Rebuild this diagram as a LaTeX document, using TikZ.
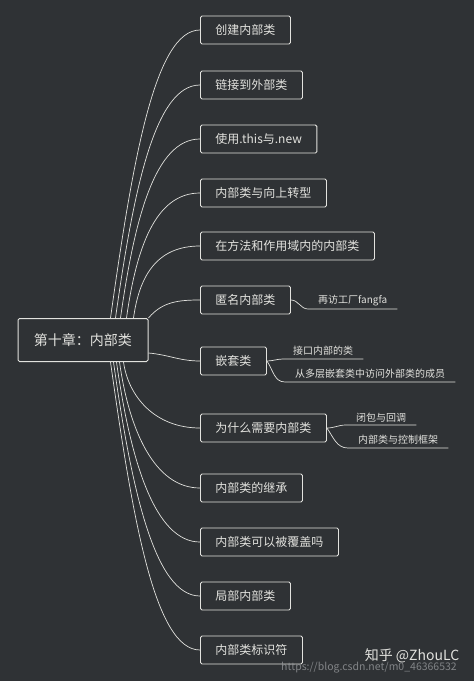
\documentclass[tikz,border=0pt]{standalone}
\usepackage{fontspec}
\newfontfamily\cjk{Noto Sans CJK SC}
\definecolor{board}{RGB}{47,50,53}
\definecolor{chalk}{RGB}{226,226,222}
\definecolor{faint}{RGB}{150,152,155}
\tikzset{
  mainbox/.style={draw=chalk, line width=1pt, rounded corners=1.5pt, text=chalk,
    font=\cjk\fontsize{14}{16}\selectfont, inner xsep=16pt, minimum height=43pt},
  topic/.style={draw=chalk, line width=.9pt, rounded corners=1.5pt, text=chalk,
    font=\cjk\fontsize{12}{14}\selectfont, inner xsep=15pt, minimum height=28pt, anchor=west},
  sub/.style={text=chalk, font=\cjk\fontsize{10}{12}\selectfont,
    inner xsep=10pt, inner ysep=3pt, anchor=south west},
  branch/.style={draw=chalk, line width=.7pt},
  wmark/.style={font=\cjk\fontsize{#1}{#1}\selectfont, inner sep=0pt},
}
\begin{document}
\begin{tikzpicture}[x=1pt,y=1pt]
\fill[board] (0,0) rectangle (474,-681);
\useasboundingbox (0,0) rectangle (474,-681);

\node[mainbox] (root) at (83,-340) {第十章：内部类};

% main topics
\foreach \i/\y/\t in {1/30/创建内部类, 2/85/链接到外部类, 3/139/使用.this与.new,
    4/193/内部类与向上转型, 5/246/在方法和作用域内的内部类, 6/300/匿名内部类,
    7/361/嵌套类, 8/428/为什么需要内部类, 9/488/内部类的继承,
    10/542/内部类可以被覆盖吗, 11/596/局部内部类, 12/650/内部类标识符}
    \node[topic] (b\i) at (200,-\y) {\t};

% branches up
\foreach \i/\s/\d in {1/-38/160, 2/-33/130, 3/-28/100, 4/-22/70, 5/-15/40}
    \draw[branch] ([xshift=\s pt]root.north east)
        to[out=82,in=180,out distance=\d pt,in distance=45pt] (b\i.west);
\draw[branch] (root.north east) to[out=50,in=180] (b6.west);
\draw[branch] ([yshift=-13pt]root.east) to[out=-5,in=180] (b7.west);
% branches down
\foreach \i/\s/\d in {8/-25/35, 9/-29/70, 10/-32/100, 11/-35/130, 12/-38/160}
    \draw[branch] ([xshift=\s pt]root.south east)
        to[out=-82,in=180,out distance=\d pt,in distance=45pt] (b\i.west);

% sub topics
\node[sub] (s1) at (308,-309) {再访工厂fangfa};
\draw[branch] (b6.east) to[out=0,in=180] (s1.south west) -- (s1.south east);

\node[sub] (s2) at (283,-359) {接口内部的类};
\draw[branch] (b7.east) to[out=0,in=180] (s2.south west) -- (s2.south east);
\node[sub] (s3) at (285,-382) {从多层嵌套类中访问外部类的成员};
\draw[branch] (b7.east) to[out=-55,in=180] (s3.south west) -- (s3.south east);

\node[sub] (s4) at (346,-425) {闭包与回调};
\draw[branch] (b8.east) to[out=0,in=180] (s4.south west) -- (s4.south east);
\node[sub] (s5) at (348,-448) {内部类与控制框架};
\draw[branch] (b8.east) to[out=-55,in=180] (s5.south west) -- (s5.south east);

% watermarks
\node[wmark=14, text=chalk] (zh) at (412,-656) {知乎 @ZhouLC};
\node[wmark=10.5, text=faint, opacity=.8] (url) at (369,-668) {https://blog.csdn.net/m0\_46366532};
\end{tikzpicture}
\end{document}
